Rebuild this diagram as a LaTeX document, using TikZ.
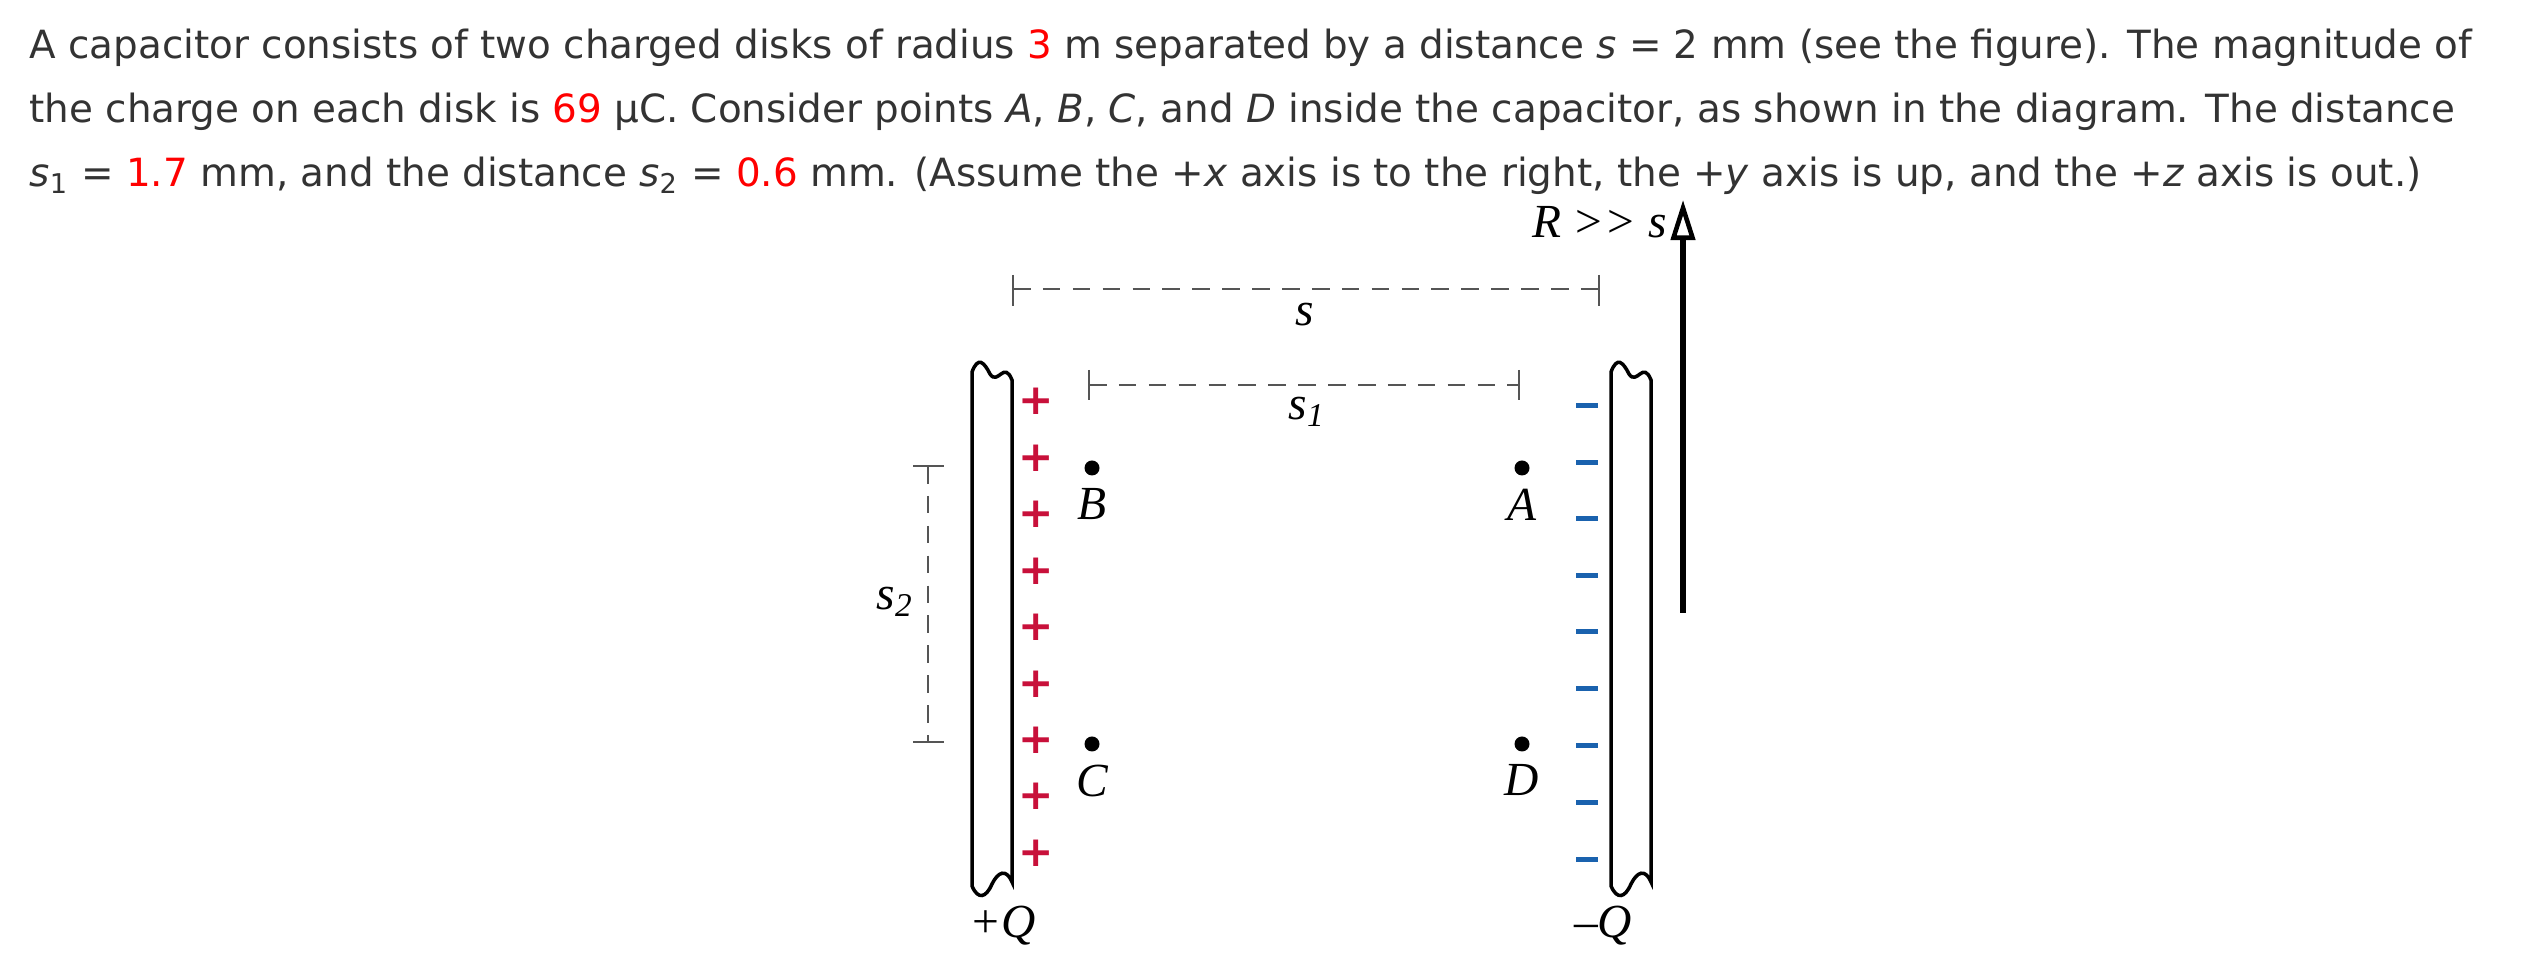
\documentclass[tikz,border=0pt]{standalone}
\usepackage{fontspec}
\setmainfont{DejaVu Sans}
\newfontfamily\serif{Liberation Serif}
\usetikzlibrary{arrows.meta}
\definecolor{txt}{HTML}{333333}
\definecolor{num}{HTML}{FF0000}
\definecolor{plus}{HTML}{C8103A}
\definecolor{minus}{HTML}{1A62AE}
\definecolor{dim}{HTML}{555555}
\tikzset{
  para/.style={anchor=base west,inner sep=0,text=txt,font=\fontsize{11.05}{14}\selectfont},
  lab/.style={inner sep=0,font=\serif\itshape\fontsize{13.5}{16}\selectfont},
  dimline/.style={dim,dashed,dash pattern=on 5pt off 3.5pt,line width=0.7pt},
  tick/.style={dim,line width=0.7pt},
  plate/.style={line width=1pt},
  pt/.style={circle,fill=black,inner sep=0,minimum size=0.15cm},
  pl/.style={text=plus,inner sep=0,font=\bfseries\fontsize{12}{12}\selectfont},
  mi/.style={fill=minus,minimum width=0.22cm,minimum height=0.05cm,inner sep=0}
}
\begin{document}
\begin{tikzpicture}[x=0.01cm,y=-0.01cm]
\useasboundingbox (0,0) rectangle (2524,980);
\node[para] (l1) at (29,59) {A capacitor consists of two charged disks of radius \textcolor{num}{3} m separated by a distance \textit{s} = 2 mm (see the figure). The magnitude of};
\node[para] (l2) at (29,123) {the charge on each disk is \textcolor{num}{69} µC. Consider points \textit{A}, \textit{B}, \textit{C}, and \textit{D} inside the capacitor, as shown in the diagram. The distance};
\node[para] (l3) at (29,187) {\textit{s}\textsubscript{1} = \textcolor{num}{1.7} mm, and the distance \textit{s}\textsubscript{2} = \textcolor{num}{0.6} mm. (Assume the +\textit{x} axis is to the right, the +\textit{y} axis is up, and the +\textit{z} axis is out.)};
% left plate
\draw[plate] (1012,380) .. controls (1004,360) and (998,386) .. (990,374) .. controls (984,362) and (978,356) .. (972,372) -- (972,886) .. controls (978,900) and (986,898) .. (992,884) .. controls (998,872) and (1006,868) .. (1012,882) -- cycle;
% right plate
\draw[plate] (1651,380) .. controls (1643,360) and (1637,386) .. (1629,374) .. controls (1623,362) and (1617,356) .. (1611,372) -- (1611,886) .. controls (1617,900) and (1625,898) .. (1631,884) .. controls (1637,872) and (1645,868) .. (1651,882) -- cycle;
\foreach \i/\y in {1/401,2/458,3/514,4/571,5/627,6/684,7/740,8/796,9/853} \node[pl] (p\i) at (1036,\y) {+};
\foreach \i/\y in {1/406,2/463,3/519,4/576,5/632,6/689,7/746,8/803,9/860} \node[mi] (m\i) at (1587,\y) {};
% points
\node[pt] (B) at (1092,468) {}; \node[lab,below=0.2cm] (Bl) at (B) {B};
\node[pt] (A) at (1522,468) {}; \node[lab,below=0.2cm] (Al) at (A) {A};
\node[pt] (C) at (1092,744) {}; \node[lab,below=0.2cm] (Cl) at (C) {C};
\node[pt] (D) at (1522,744) {}; \node[lab,below=0.2cm] (Dl) at (D) {D};
% s dimension
\coordinate (sa) at (1013,289); \coordinate (sb) at (1599,289);
\draw[dimline] (sa) -- (sb);
\draw[tick] (1013,275) -- (1013,306) (1599,275) -- (1599,306);
\node[lab] (sl) at (1305,315) {s};
% s1
\coordinate (s1a) at (1089,385); \coordinate (s1b) at (1519,385);
\draw[dimline] (s1a) -- (s1b);
\draw[tick] (1089,370) -- (1089,400) (1519,370) -- (1519,400);
\node[lab] (s1l) at (1307,412) {s\textsubscript{1}};
% s2
\coordinate (s2a) at (928,466); \coordinate (s2b) at (928,742);
\draw[dimline] (s2a) -- (s2b);
\draw[tick] (913,466) -- (944,466) (913,742) -- (944,742);
\node[lab] (s2l) at (895,602) {s\textsubscript{2}};
% arrow
\coordinate (ra) at (1683,613); \coordinate (rb) at (1683,200);
\draw[line width=1.6pt,-{Triangle[open,length=0.4cm,width=0.24cm,line width=1.3pt]}] (ra) -- (rb);
\node[lab,anchor=east] (rl) at (1668,222) {R {>}{>} s};
\node[lab] (pq) at (1003,926) {+Q};
\node[lab] (nq) at (1603,926) {–Q};
\end{tikzpicture}
\end{document}
